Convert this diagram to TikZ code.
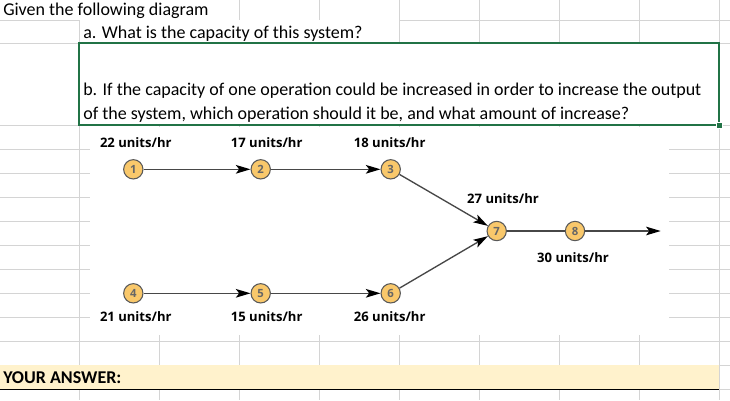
\documentclass[tikz,border=0pt]{standalone}
\usepackage{fontspec}
\setmainfont{Carlito}
\newfontfamily\ratefont{Open Sans}
\usetikzlibrary{arrows.meta}

\definecolor{gridgray}{HTML}{D4D4D4}
\definecolor{selgreen}{HTML}{217346}
\definecolor{opfill}{HTML}{F9C86B}
\definecolor{ansbg}{HTML}{FFF2CC}

\begin{document}
\begin{tikzpicture}[x=0.75pt,y=-0.75pt,
  grid/.style={gridgray,line width=0.75pt},
  cell/.style={anchor=base west,inner sep=0pt,font=\fontsize{13.5}{16}\selectfont},
  op/.style={circle,draw=black!65,fill=opfill,line width=0.8pt,minimum size=14.5pt,inner sep=0pt,
    font=\ratefont\bfseries\fontsize{8.5}{9}\selectfont,text=black!60},
  rate/.style={anchor=base,inner sep=0pt,font=\ratefont\bfseries\fontsize{9.8}{10}\selectfont},
  link/.style={draw=black!72,line width=1pt},
  flow/.style={link,-{Stealth[length=11pt,width=6.5pt,inset=2.5pt,color=black]}}]
\useasboundingbox (0,0) rectangle (730,400);
% sheet grid
\foreach \y in {20,43.3,389.3}
  \draw[grid] (0,\y) -- (730,\y);
\foreach \i in {0,...,10}
  \draw[grid] (0,{125.3+24*\i}) -- (730,{125.3+24*\i});
\foreach \i in {0,...,8}
  \draw[grid] ({79.3+80*\i},0) -- ({79.3+80*\i},400);
% cells covered by text, the question box and the pasted figure
\fill[white] (0,0) rectangle (238.6,19.6);
\fill[white] (80,20.4) rectangle (398.6,42.9);
\fill[white] (79.3,43.3) rectangle (719.3,125.3);
\draw[selgreen,line width=1.5pt] (79.3,43.3) rectangle (719.3,125.3);
\filldraw[fill=selgreen,draw=white,line width=0.6pt] (716.3,122.3) rectangle (722.3,128.3);
\fill[white] (90,126.6) rectangle (669,335);
\fill[ansbg] (0,365.3) rectangle (719.3,389.3);
\draw[black,line width=0.9pt] (0,389.3) -- (719.3,389.3);

\node[cell] (title) at (3,15) {Given the following diagram};
\node[cell] (qa) at (83,38.3) {a. What is the capacity of this system?};
\node[cell] (qb1) at (83,95.7) {b. If the capacity of one operation could be increased in order to increase the output};
\node[cell] (qb2) at (83,119) {of the system, which operation should it be, and what amount of increase?};
\node[cell,font=\fontsize{13.5}{16}\selectfont\bfseries] (answer) at (3,383.3) {YOUR ANSWER:};

% operations
\node[op] (n1) at (133.3,169.3) {1};
\node[op] (n2) at (260.7,169.3) {2};
\node[op] (n3) at (390.7,169.3) {3};
\node[op] (n4) at (133.3,293.3) {4};
\node[op] (n5) at (260.7,293.3) {5};
\node[op] (n6) at (390.7,293.3) {6};
\node[op] (n7) at (496.7,231) {7};
\node[op] (n8) at (575,231) {8};
\coordinate (out) at (660.7,231);

\node[rate] (r1) at (135.8,147.3) {22 units/hr};
\node[rate] (r2) at (266.7,147.3) {17 units/hr};
\node[rate] (r3) at (389.7,147.3) {18 units/hr};
\node[rate] (r4) at (135.8,321.7) {21 units/hr};
\node[rate] (r5) at (266.7,321.7) {15 units/hr};
\node[rate] (r6) at (389.7,321.7) {26 units/hr};
\node[rate] (r7) at (503,203.3) {27 units/hr};
\node[rate] (r8) at (573,262.3) {30 units/hr};

\draw[flow] (n1) -- (n2);
\draw[flow] (n2) -- (n3);
\draw[flow] (n4) -- (n5);
\draw[flow] (n5) -- (n6);
\draw[flow] (n3) -- (n7);
\draw[flow] (n6) -- (n7);
\draw[link] (n7) -- (n8);
\draw[flow] (n8) -- (out);
\end{tikzpicture}
\end{document}
